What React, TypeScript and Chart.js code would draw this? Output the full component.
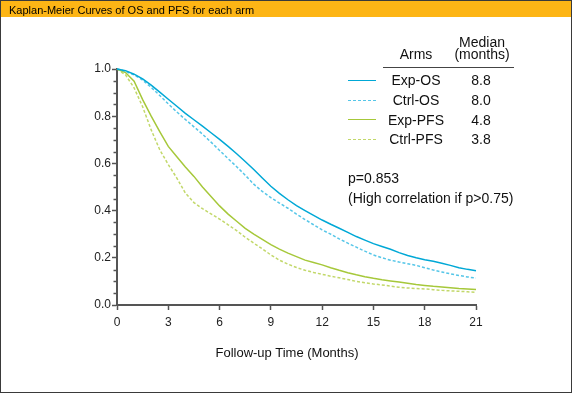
import React, { useEffect, useRef } from "react";
import { Chart, registerables } from "chart.js";

Chart.register(...registerables);

// Follow-up time (months)
const months = [
  0, 0.5, 1, 1.5, 2, 2.5, 3, 3.5, 4, 4.5, 5, 5.5, 6, 6.5, 7, 7.5, 8, 8.5, 9, 9.5, 10,
  10.5, 11, 11.5, 12, 12.5, 13, 13.5, 14, 14.5, 15, 15.5, 16, 16.5, 17, 17.5, 18, 18.5,
  19, 19.5, 20, 20.5, 21,
];

const expOS = [
  1.0, 0.993, 0.978, 0.958, 0.932, 0.902, 0.872, 0.842, 0.812, 0.785, 0.758, 0.73, 0.702,
  0.672, 0.641, 0.608, 0.574, 0.538, 0.503, 0.473, 0.446, 0.421, 0.4, 0.38, 0.36, 0.342,
  0.325, 0.308, 0.29, 0.275, 0.26, 0.248, 0.236, 0.222, 0.21, 0.2, 0.192, 0.185, 0.177,
  0.168, 0.158, 0.151, 0.145,
];

const ctrlOS = [
  1.0, 0.99, 0.975, 0.953, 0.922, 0.888, 0.852, 0.818, 0.786, 0.755, 0.724, 0.69, 0.655,
  0.62, 0.586, 0.55, 0.512, 0.481, 0.455, 0.432, 0.41, 0.385, 0.362, 0.34, 0.318, 0.3,
  0.28, 0.262, 0.245, 0.228, 0.212, 0.2, 0.19, 0.182, 0.175, 0.168, 0.158, 0.148, 0.14,
  0.132, 0.125, 0.119, 0.114,
];

const expPFS = [
  1.0, 0.985, 0.948, 0.87, 0.8, 0.735, 0.672, 0.628, 0.585, 0.545, 0.5, 0.46, 0.42, 0.385,
  0.355, 0.325, 0.3, 0.278, 0.256, 0.237, 0.22, 0.205, 0.19, 0.18, 0.17, 0.158, 0.147,
  0.137, 0.128, 0.12, 0.113, 0.107, 0.102, 0.097, 0.092, 0.087, 0.083, 0.079, 0.076, 0.073,
  0.07, 0.068, 0.066,
];

const ctrlPFS = [
  1.0, 0.975, 0.92, 0.84, 0.742, 0.658, 0.595, 0.538, 0.474, 0.434, 0.408, 0.386, 0.364,
  0.34, 0.315, 0.287, 0.262, 0.238, 0.212, 0.19, 0.173, 0.159, 0.147, 0.138, 0.13, 0.122,
  0.115, 0.108, 0.1, 0.094, 0.089, 0.085, 0.08, 0.075, 0.072, 0.07, 0.068, 0.065, 0.062,
  0.06, 0.058, 0.056, 0.054,
];

const armNames = ["Exp-OS", "Ctrl-OS", "Exp-PFS", "Ctrl-PFS"];
const medians = ["8.8", "8.0", "4.8", "3.8"];
const armColors = ["#00a8d6", "#55c6e8", "#a6c83a", "#c2d86a"];
const armDashed = [false, true, false, true];

const xTicks = [0, 3, 6, 9, 12, 15, 18, 21];
const yMinorTicks = [
  0.05, 0.1, 0.15, 0.25, 0.3, 0.35, 0.45, 0.5, 0.55, 0.65, 0.7, 0.75, 0.85, 0.9, 0.95,
];

const FONT = "'Liberation Sans', Arial, Helvetica, sans-serif";

const minorTickPlugin = {
  id: "minorTicks",
  afterDraw(chart: any) {
    const ctx = chart.ctx;
    const y = chart.scales.y;
    const left = chart.chartArea.left;
    ctx.save();
    ctx.strokeStyle = "#555";
    ctx.lineWidth = 1.5;
    for (const v of yMinorTicks) {
      const py = Math.round(y.getPixelForValue(v)) + 0.5;
      ctx.beginPath();
      ctx.moveTo(left - 3.5, py);
      ctx.lineTo(left, py);
      ctx.stroke();
    }
    ctx.restore();
  },
};

export default function App() {
  const ref = useRef<HTMLCanvasElement>(null);

  useEffect(() => {
    if (!ref.current) return;
    const series = [expOS, ctrlOS, expPFS, ctrlPFS];
    const chart = new Chart(ref.current, {
      type: "line",
      data: {
        datasets: series.map((s, i) => ({
          label: armNames[i],
          data: months.map((t, j) => ({ x: t, y: s[j] })),
          borderColor: armColors[i],
          borderWidth: 1.5,
          borderDash: armDashed[i] ? [3, 2] : [],
          pointRadius: 0,
          tension: 0,
          fill: false,
          clip: false,
        })),
      },
      options: {
        animation: false,
        responsive: false,
        maintainAspectRatio: false,
        layout: { padding: { left: 0, top: 69, right: 96, bottom: 0 } },
        plugins: {
          legend: { display: false },
          tooltip: { enabled: false },
        },
        scales: {
          x: {
            type: "linear",
            min: 0,
            max: 21,
            afterBuildTicks: (s: any) => {
              s.ticks = xTicks.map((v) => ({ value: v }));
            },
            ticks: {
              font: { family: FONT, size: 12 },
              color: "#222",
              padding: 5,
              maxRotation: 0,
            },
            grid: {
              display: true,
              drawOnChartArea: false,
              drawTicks: true,
              tickLength: 5,
              tickColor: "#555",
              tickWidth: 1.5,
            },
            border: { display: true, color: "#555", width: 2 },
            afterFit: (s: any) => {
              s.height = 88;
            },
          },
          y: {
            type: "linear",
            min: 0,
            max: 1,
            ticks: {
              stepSize: 0.2,
              font: { family: FONT, size: 12 },
              color: "#222",
              padding: 1,
              callback: (v: any) => Number(v).toFixed(1),
            },
            grid: {
              display: true,
              drawOnChartArea: false,
              drawTicks: true,
              tickLength: 5,
              tickColor: "#555",
              tickWidth: 1.5,
            },
            border: { display: true, color: "#555", width: 2 },
            afterFit: (s: any) => {
              s.width = 117;
            },
          },
        },
      } as any,
      plugins: [minorTickPlugin],
    });
    return () => chart.destroy();
  }, []);

  const txt = (extra: React.CSSProperties): React.CSSProperties => ({
    position: "absolute",
    fontFamily: FONT,
    fontSize: 14,
    lineHeight: "16px",
    color: "#111",
    whiteSpace: "nowrap",
    ...extra,
  });

  const rowY = [80, 100, 119.5, 139];

  return (
    <div
      style={{
        position: "fixed",
        left: 0,
        top: 0,
        width: 572,
        height: 393,
        background: "#fff",
        overflow: "hidden",
      }}
    >
      <canvas
        ref={ref}
        width={572}
        height={393}
        style={{ position: "absolute", left: 0, top: 0, width: 572, height: 393 }}
      />
      <div
        style={{
          position: "absolute",
          left: 0,
          top: 0,
          width: 572,
          height: 17,
          background: "#fdb515",
        }}
      />
      <div style={txt({ left: 9, top: 2, fontSize: 11, lineHeight: "16px", color: "#000" })}>
        Kaplan-Meier Curves of OS and PFS for each arm
      </div>
      <div
        style={{
          position: "absolute",
          left: 0,
          top: 0,
          width: 572,
          height: 393,
          boxSizing: "border-box",
          border: "1px solid #3a3a3a",
          pointerEvents: "none",
        }}
      />
      {/* legend table */}
      <div style={txt({ left: 381, width: 70, textAlign: "center", top: 46 })}>Arms</div>
      <div style={txt({ left: 442, width: 80, textAlign: "center", top: 34 })}>Median</div>
      <div style={txt({ left: 442, width: 80, textAlign: "center", top: 46 })}>(months)</div>
      <div
        style={{
          position: "absolute",
          left: 383,
          top: 67,
          width: 131,
          height: 0,
          borderTop: "1.5px solid #444",
        }}
      />
      {armNames.map((n, i) => (
        <React.Fragment key={n}>
          <div
            style={{
              position: "absolute",
              left: 348,
              top: rowY[i] - 0.5,
              width: 28,
              height: 0,
              borderTop: `1.5px ${armDashed[i] ? "dashed" : "solid"} ${armColors[i]}`,
            }}
          />
          <div style={txt({ left: 381, width: 70, textAlign: "center", top: rowY[i] - 8 })}>{n}</div>
          <div style={txt({ left: 451, width: 60, textAlign: "center", top: rowY[i] - 8 })}>
            {medians[i]}
          </div>
        </React.Fragment>
      ))}
      <div style={txt({ left: 348, top: 170 })}>p=0.853</div>
      <div style={txt({ left: 348, top: 189.5 })}>(High correlation if p&gt;0.75)</div>
      <div style={txt({ left: 187, width: 200, textAlign: "center", top: 345, fontSize: 13 })}>
        Follow-up Time (Months)
      </div>
    </div>
  );
}
